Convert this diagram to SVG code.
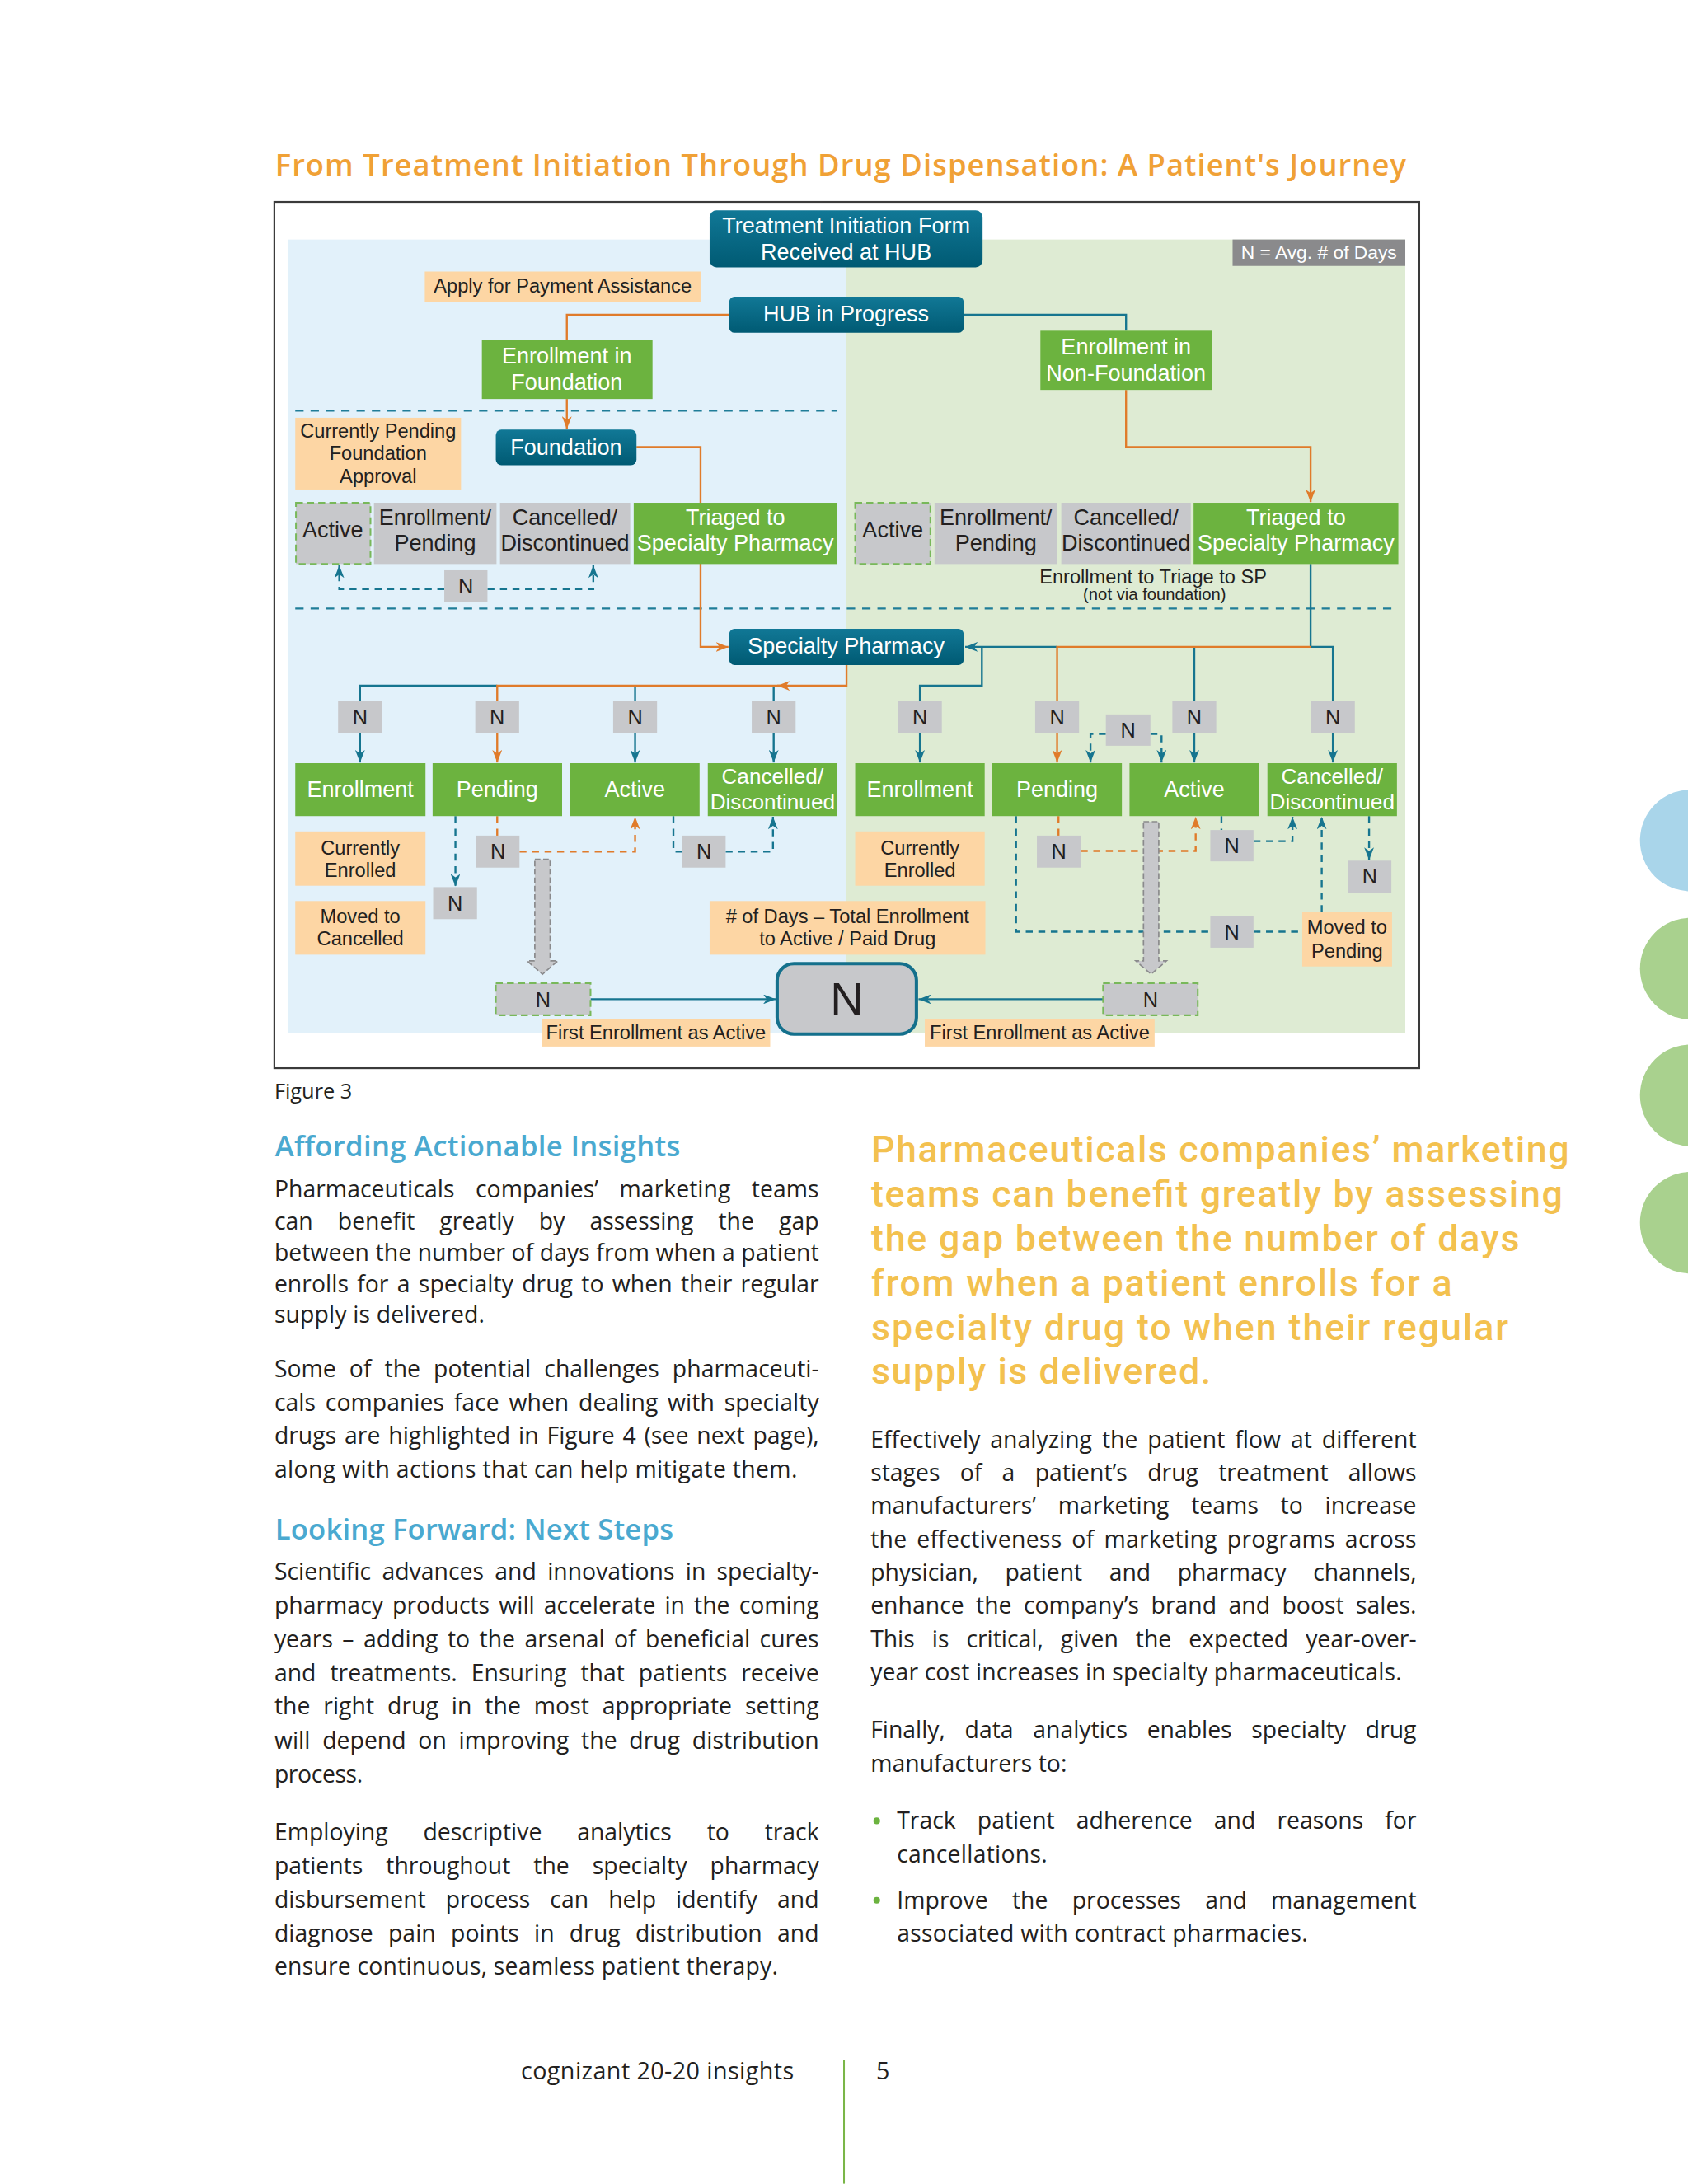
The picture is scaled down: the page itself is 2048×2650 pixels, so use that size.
<svg xmlns="http://www.w3.org/2000/svg" width="2048" height="2650" viewBox="0 0 2048 2650">
<defs>
<linearGradient id="tealG" x1="0" y1="0" x2="0" y2="1"><stop offset="0" stop-color="#117896"/><stop offset="1" stop-color="#005a73"/></linearGradient>
<marker id="aT" viewBox="0 0 9 7" refX="9" refY="3.5" markerWidth="9" markerHeight="7" markerUnits="userSpaceOnUse" orient="auto"><path d="M0,0 L9,3.5 L0,7 L2.5,3.5 Z" fill="#16758f"/></marker>
<marker id="aO" viewBox="0 0 9 7" refX="9" refY="3.5" markerWidth="9" markerHeight="7" markerUnits="userSpaceOnUse" orient="auto"><path d="M0,0 L9,3.5 L0,7 L2.5,3.5 Z" fill="#e07b2a"/></marker>
</defs>
<style>
.tl{fill:none;stroke:#16758f;stroke-width:1.4}
.ol{fill:none;stroke:#e07b2a;stroke-width:1.4}
.dash{stroke-dasharray:5 4}
.sep{fill:none;stroke:#1f7d98;stroke-width:1.3;stroke-dasharray:6 5}
.teal{fill:url(#tealG)}
.grn{fill:#6cb33f}
.gry{fill:#c7c8cb}
.gryd{fill:#c7c8cb;stroke:#78b85a;stroke-width:1.2;stroke-dasharray:5 3}
.pch{fill:#fdd6a4}
.garr{fill:#c7c8cb;stroke:#8a8a8c;stroke-width:1;stroke-dasharray:4 2}
.d{font-family:"Liberation Sans",Arial,sans-serif;text-anchor:middle;font-size:16px;fill:#231f20}
.w{fill:#fff}
.s14{font-size:14px}
.s15{font-size:15px}
.p{font-family:"Open Sans","Liberation Sans",sans-serif;font-size:16.8px;fill:#231f20}
.h{font-family:"Open Sans","Liberation Sans",sans-serif;font-size:20.5px;font-weight:600;fill:#4aa9d0}
.q{font-family:Roboto,"Liberation Sans",sans-serif;font-size:26.5px;font-weight:500;fill:#f3c14f}
</style>
<rect width="2048" height="2650" fill="#ffffff"/>
<g transform="scale(1.6898)">
<!-- title -->
<text id="title" x="197.5" y="126" textLength="812" style="font-family:'Open Sans','Liberation Sans',sans-serif;font-size:21.5px;font-weight:600;fill:#f0a136">From Treatment Initiation Through Drug Dispensation: A Patient's Journey</text>

<!-- frame and panels -->
<g id="frame">
<rect x="197" y="145" width="822" height="622" fill="#ffffff" stroke="#3a3a3a" stroke-width="1.3"/>
<rect x="206.5" y="172" width="401" height="569.5" fill="#e2f1fa"/>
<rect x="607.5" y="172" width="401.5" height="569.5" fill="#deebd3"/>
</g>

<!-- connectors -->
<g id="connectors">
<path class="sep" d="M212,295 H601"/>
<path class="sep" d="M212,437 H1004"/>
<!-- teal solid -->
<path class="tl" d="M692,226 H808.5 V237.5"/>
<path class="tl" d="M941,405 V464.5 H957 V503.5"/>
<path class="tl" d="M957,526.5 V547.5" marker-end="url(#aT)"/>
<path class="tl" d="M759,464.5 H693" marker-end="url(#aT)"/>
<path class="tl" d="M705,464.5 V492.4 H660.5 V503.5"/>
<path class="tl" d="M660.5,526.5 V547.5" marker-end="url(#aT)"/>
<path class="tl" d="M857.5,464.5 V503.5"/>
<path class="tl" d="M857.5,526.5 V547.5" marker-end="url(#aT)"/>
<path class="tl" d="M357,492.4 H258.5 V503.5"/>
<path class="tl" d="M258.5,526.5 V547.5" marker-end="url(#aT)"/>
<path class="tl" d="M456,492.4 V503.5"/>
<path class="tl" d="M456,526.5 V547.5" marker-end="url(#aT)"/>
<path class="tl" d="M555.5,492.4 V503.5"/>
<path class="tl" d="M555.5,526.5 V547.5" marker-end="url(#aT)"/>
<path class="tl" d="M424,717.5 H557" marker-end="url(#aT)"/>
<path class="tl" d="M792,717.5 H659.5" marker-end="url(#aT)"/>
<!-- orange solid -->
<path class="ol" d="M523.5,226 H407 V244"/>
<path class="ol" d="M407,286.5 V308" marker-end="url(#aO)"/>
<path class="ol" d="M457,321 H503 V464.5 H523" marker-end="url(#aO)"/>
<path class="ol" d="M808.5,280 V321 H941 V360.5" marker-end="url(#aO)"/>
<path class="ol" d="M607.8,477.5 V492.4 H558" marker-end="url(#aO)"/>
<path class="ol" d="M560,492.4 H357 V503.5"/>
<path class="ol" d="M357,526.5 V547.5" marker-end="url(#aO)"/>
<path class="ol" d="M941,464.5 H759 V503.5"/>
<path class="ol" d="M759,526.5 V547.5" marker-end="url(#aO)"/>
<!-- dashed teal -->
<path class="tl dash" d="M319,423 H243.6 V406" marker-end="url(#aT)"/>
<path class="tl dash" d="M350,423 H426 V406" marker-end="url(#aT)"/>
<path class="tl dash" d="M327,586 V636.5" marker-end="url(#aT)"/>
<path class="tl dash" d="M483.5,586 V611.5 H490"/>
<path class="tl dash" d="M521,611.5 H555 V586.5" marker-end="url(#aT)"/>
<path class="tl dash" d="M794,527 H783 V547.5" marker-end="url(#aT)"/>
<path class="tl dash" d="M826,527 H834 V547.5" marker-end="url(#aT)"/>
<path class="tl dash" d="M729.5,586 V669 H869"/>
<path class="tl dash" d="M900,669 H935"/>
<path class="tl dash" d="M877,586 V596"/>
<path class="tl dash" d="M900,604 H928 V586.5" marker-end="url(#aT)"/>
<path class="tl dash" d="M949,655 V586.5" marker-end="url(#aT)"/>
<path class="tl dash" d="M983,586 V617.5" marker-end="url(#aT)"/>
<!-- dashed orange -->
<path class="ol dash" d="M357,586 V600"/>
<path class="ol dash" d="M373,611.5 H456 V586.5" marker-end="url(#aO)"/>
<path class="ol dash" d="M760,586 V600"/>
<path class="ol dash" d="M776,611 H858.5 V586.5" marker-end="url(#aO)"/>
<!-- big gray arrows -->
<path class="garr" d="M384,617 H395 V690 H400.5 L389.5,699.5 L378.5,690 H384 Z"/>
<path class="garr" d="M821,590 H832 V690 H837.5 L826.5,699.5 L815.5,690 H821 Z"/>
</g>

<!-- nodes -->
<g id="n-treatment"><rect x="509.5" y="151" width="196" height="41" rx="5" class="teal"/><text class="d w" x="607.5" y="167.5">Treatment Initiation Form</text><text class="d w" x="607.5" y="186.5">Received at HUB</text></g>
<g id="n-legend"><rect x="885" y="172" width="124" height="19" fill="#8a8a8c"/><text class="d w" x="947" y="186" style="font-size:13.5px">N = Avg. # of Days</text></g>
<g id="n-apply"><rect x="305" y="195" width="198" height="22" class="pch"/><text class="d s14" x="404" y="210">Apply for Payment Assistance</text></g>
<g id="n-hub"><rect x="523.5" y="213" width="168.5" height="26" rx="4" class="teal"/><text class="d w" x="607.5" y="231">HUB in Progress</text></g>
<g id="n-enrf"><rect x="346" y="244" width="122.5" height="42.5" class="grn"/><text class="d w" x="407" y="261">Enrollment in</text><text class="d w" x="407" y="280">Foundation</text></g>
<g id="n-enrnf"><rect x="747" y="237.5" width="123" height="42.5" class="grn"/><text class="d w" x="808.5" y="254.5">Enrollment in</text><text class="d w" x="808.5" y="273.5">Non-Foundation</text></g>
<g id="n-pendfound"><rect x="212" y="300" width="119" height="51.5" class="pch"/><text class="d s14" x="271.5" y="314">Currently Pending</text><text class="d s14" x="271.5" y="330">Foundation</text><text class="d s14" x="271.5" y="346.5">Approval</text></g>
<g id="n-foundation"><rect x="356" y="308.5" width="101" height="25.5" rx="4" class="teal"/><text class="d w" x="406.5" y="326.5">Foundation</text></g>

<g id="n-activeL"><rect x="212.5" y="361" width="53.5" height="44" class="gryd"/><text class="d" x="239" y="386">Active</text></g>
<g id="n-enrpendL"><rect x="268.5" y="361" width="88" height="44" class="gry"/><text class="d" x="312.5" y="377">Enrollment/</text><text class="d" x="312.5" y="395.5">Pending</text></g>
<g id="n-cancL"><rect x="359" y="361" width="93.5" height="44" class="gry"/><text class="d" x="405.7" y="377">Cancelled/</text><text class="d" x="405.7" y="395.5">Discontinued</text></g>
<g id="n-triagedL"><rect x="455" y="361" width="146" height="44" class="grn"/><text class="d w" x="528" y="377">Triaged to</text><text class="d w" x="528" y="395.5">Specialty Pharmacy</text></g>
<g id="n-activeR"><rect x="614" y="361" width="54" height="44" class="gryd"/><text class="d" x="641" y="386">Active</text></g>
<g id="n-enrpendR"><rect x="671" y="361" width="88" height="44" class="gry"/><text class="d" x="715" y="377">Enrollment/</text><text class="d" x="715" y="395.5">Pending</text></g>
<g id="n-cancR"><rect x="762" y="361" width="93" height="44" class="gry"/><text class="d" x="808.5" y="377">Cancelled/</text><text class="d" x="808.5" y="395.5">Discontinued</text></g>
<g id="n-triagedR"><rect x="857" y="361" width="147" height="44" class="grn"/><text class="d w" x="930.5" y="377">Triaged to</text><text class="d w" x="930.5" y="395.5">Specialty Pharmacy</text></g>

<g id="n-nTop"><rect x="319" y="409.5" width="31" height="23" class="gry"/><text class="d s15" x="334.5" y="426">N</text></g>
<g id="n-triagelabel"><text class="d s14" x="828" y="419">Enrollment to Triage to SP</text><text class="d" x="829" y="431" style="font-size:12px">(not via foundation)</text></g>
<g id="n-sp"><rect x="523.5" y="451.5" width="168.5" height="26" rx="4" class="teal"/><text class="d w" x="607.5" y="469.5">Specialty Pharmacy</text></g>

<!-- N boxes second row -->
<g id="n-n1"><rect x="242.75" y="503.5" width="31.5" height="23" class="gry"/><text class="d s15" x="258.5" y="520">N</text></g>
<g id="n-n2"><rect x="341.25" y="503.5" width="31.5" height="23" class="gry"/><text class="d s15" x="357" y="520">N</text></g>
<g id="n-n3"><rect x="440.25" y="503.5" width="31.5" height="23" class="gry"/><text class="d s15" x="456" y="520">N</text></g>
<g id="n-n4"><rect x="539.75" y="503.5" width="31.5" height="23" class="gry"/><text class="d s15" x="555.5" y="520">N</text></g>
<g id="n-n5"><rect x="644.75" y="503.5" width="31.5" height="23" class="gry"/><text class="d s15" x="660.5" y="520">N</text></g>
<g id="n-n6"><rect x="743.25" y="503.5" width="31.5" height="23" class="gry"/><text class="d s15" x="759" y="520">N</text></g>
<g id="n-n7"><rect x="841.75" y="503.5" width="31.5" height="23" class="gry"/><text class="d s15" x="857.5" y="520">N</text></g>
<g id="n-n8"><rect x="941.25" y="503.5" width="31.5" height="23" class="gry"/><text class="d s15" x="957" y="520">N</text></g>
<g id="n-nmid"><rect x="794" y="513" width="32" height="22.5" class="gry"/><text class="d s15" x="810" y="529.5">N</text></g>

<!-- green status row -->
<g id="n-enrollL"><rect x="212" y="548" width="93.5" height="38" class="grn"/><text class="d w" x="258.7" y="572">Enrollment</text></g>
<g id="n-pendingL"><rect x="310.6" y="548" width="93" height="38" class="grn"/><text class="d w" x="357" y="572">Pending</text></g>
<g id="n-activeL2"><rect x="409.3" y="548" width="93" height="38" class="grn"/><text class="d w" x="455.8" y="572">Active</text></g>
<g id="n-cancL2"><rect x="508.2" y="548" width="93" height="38" class="grn"/><text class="d w" x="554.7" y="563" style="font-size:15.5px">Cancelled/</text><text class="d w" x="554.7" y="581" style="font-size:15.5px">Discontinued</text></g>
<g id="n-enrollR"><rect x="614" y="548" width="93" height="38" class="grn"/><text class="d w" x="660.5" y="572">Enrollment</text></g>
<g id="n-pendingR"><rect x="712.5" y="548" width="93" height="38" class="grn"/><text class="d w" x="759" y="572">Pending</text></g>
<g id="n-activeR2"><rect x="811" y="548" width="93" height="38" class="grn"/><text class="d w" x="857.5" y="572">Active</text></g>
<g id="n-cancR2"><rect x="910" y="548" width="93" height="38" class="grn"/><text class="d w" x="956.5" y="563" style="font-size:15.5px">Cancelled/</text><text class="d w" x="956.5" y="581" style="font-size:15.5px">Discontinued</text></g>

<!-- lower left -->
<g id="n-curEnrL"><rect x="212" y="597" width="93.5" height="39" class="pch"/><text class="d s14" x="258.7" y="613.5">Currently</text><text class="d s14" x="258.7" y="629.5">Enrolled</text></g>
<g id="n-movCan"><rect x="212" y="647" width="93.5" height="38.5" class="pch"/><text class="d s14" x="258.7" y="663">Moved to</text><text class="d s14" x="258.7" y="679">Cancelled</text></g>
<g id="n-nPendT"><rect x="311" y="637" width="31.5" height="23" class="gry"/><text class="d s15" x="326.8" y="654">N</text></g>
<g id="n-nPendO"><rect x="342" y="600" width="31" height="23" class="gry"/><text class="d s15" x="357.5" y="616.5">N</text></g>
<g id="n-nActT"><rect x="490" y="600" width="31" height="23" class="gry"/><text class="d s15" x="505.5" y="616.5">N</text></g>
<g id="n-days"><rect x="509.5" y="647" width="198" height="38.5" class="pch"/><text class="d s14" x="608.5" y="663">#&#160;of Days – Total Enrollment</text><text class="d s14" x="608.5" y="679">to Active / Paid Drug</text></g>

<!-- lower right -->
<g id="n-curEnrR"><rect x="614" y="597" width="93" height="39" class="pch"/><text class="d s14" x="660.5" y="613.5">Currently</text><text class="d s14" x="660.5" y="629.5">Enrolled</text></g>
<g id="n-nPendOR"><rect x="744.5" y="600" width="31.5" height="23" class="gry"/><text class="d s15" x="760.2" y="616.5">N</text></g>
<g id="n-nActTR"><rect x="869" y="596" width="31" height="22.5" class="gry"/><text class="d s15" x="884.5" y="612.5">N</text></g>
<g id="n-nCanR"><rect x="968" y="618" width="31" height="23" class="gry"/><text class="d s15" x="983.5" y="634.5">N</text></g>
<g id="n-nMovR"><rect x="869" y="658" width="31" height="22.5" class="gry"/><text class="d s15" x="884.5" y="674.5">N</text></g>
<g id="n-movPend"><rect x="935" y="655" width="64.5" height="39" class="pch"/><text class="d s14" x="967.2" y="670.5">Moved to</text><text class="d s14" x="967.2" y="687.5">Pending</text></g>

<!-- bottom -->
<g id="n-bigN"><rect x="558" y="692" width="100" height="50.5" rx="12" fill="#c7c8cb" stroke="#14708c" stroke-width="2.4"/><text class="d" x="608" y="728.5" style="font-size:33px">N</text></g>
<g id="n-nFirstL"><rect x="356" y="706" width="68" height="23" class="gryd"/><text class="d s15" x="390" y="723">N</text></g>
<g id="n-nFirstR"><rect x="792" y="706" width="68" height="23" class="gryd"/><text class="d s15" x="826" y="723">N</text></g>
<g id="n-firstL"><rect x="389" y="731.5" width="164" height="20" class="pch"/><text class="d s14" x="471" y="746.5">First Enrollment as Active</text></g>
<g id="n-firstR"><rect x="664" y="731.5" width="165" height="20" class="pch"/><text class="d s14" x="746.5" y="746.5">First Enrollment as Active</text></g>

<!-- page text -->
<g id="page-left">
<text class="p" x="197" y="789" style="font-size:15px">Figure 3</text>
<text class="h" x="197.5" y="830.5" textLength="291">Affording Actionable Insights</text>
<text class="p" x="197" y="860" textLength="391" style="word-spacing:10.7px">Pharmaceuticals companies’ marketing teams</text>
<text class="p" x="197" y="883" textLength="391" style="word-spacing:13.4px">can benefit greatly by assessing the gap</text>
<text class="p" x="197" y="905.6" textLength="391">between the number of days from when a patient</text>
<text class="p" x="197" y="927.8" textLength="391" style="word-spacing:1.7px">enrolls for a specialty drug to when their regular</text>
<text class="p" x="197" y="950" textLength="151">supply is delivered.</text>
<text class="p" x="197" y="989" textLength="391" style="word-spacing:5.1px">Some of the potential challenges pharmaceuti-</text>
<text class="p" x="197" y="1013" textLength="391" style="word-spacing:2.6px">cals companies face when dealing with specialty</text>
<text class="p" x="197" y="1037" textLength="391" style="word-spacing:1.5px">drugs are highlighted in Figure 4 (see next page),</text>
<text class="p" x="197" y="1061" textLength="375.5">along with actions that can help mitigate them.</text>
<text class="h" x="197.5" y="1105.5" textLength="286">Looking Forward: Next Steps</text>
<text class="p" x="197" y="1134.6" textLength="391" style="word-spacing:3.5px">Scientific advances and innovations in specialty-</text>
<text class="p" x="197" y="1159" textLength="391" style="word-spacing:2.2px">pharmacy products will accelerate in the coming</text>
<text class="p" x="197" y="1183" textLength="391" style="word-spacing:2.4px">years – adding to the arsenal of beneficial cures</text>
<text class="p" x="197" y="1207" textLength="391" style="word-spacing:5.7px">and treatments. Ensuring that patients receive</text>
<text class="p" x="197" y="1231" textLength="391" style="word-spacing:5.1px">the right drug in the most appropriate setting</text>
<text class="p" x="197" y="1256" textLength="391" style="word-spacing:4.3px">will depend on improving the drug distribution</text>
<text class="p" x="197" y="1280" textLength="63.5">process.</text>
<text class="p" x="197" y="1321.6" textLength="391" style="word-spacing:21px">Employing descriptive analytics to track</text>
<text class="p" x="197" y="1346" textLength="391" style="word-spacing:12.2px">patients throughout the specialty pharmacy</text>
<text class="p" x="197" y="1370" textLength="391" style="word-spacing:9.8px">disbursement process can help identify and</text>
<text class="p" x="197" y="1394" textLength="391" style="word-spacing:6.4px">diagnose pain points in drug distribution and</text>
<text class="p" x="197" y="1418" textLength="361.6">ensure continuous, seamless patient therapy.</text>
</g>
<g id="page-right">
<text class="q" x="625.5" y="834.6" textLength="501">Pharmaceuticals companies’ marketing</text>
<text class="q" x="625.5" y="866.6" textLength="496.5">teams can benefit greatly by assessing</text>
<text class="q" x="625.5" y="898.4" textLength="465.5">the gap between the number of days</text>
<text class="q" x="625.5" y="930.2" textLength="417">from when a patient enrolls for a</text>
<text class="q" x="625.5" y="962" textLength="457.5">specialty drug to when their regular</text>
<text class="q" x="625.5" y="993.6" textLength="244">supply is delivered.</text>
<text class="p" x="625" y="1039.5" textLength="392" style="word-spacing:2.7px">Effectively analyzing the patient flow at different</text>
<text class="p" x="625" y="1063.4" textLength="392" style="word-spacing:10px">stages of a patient’s drug treatment allows</text>
<text class="p" x="625" y="1087.3" textLength="392" style="word-spacing:11.4px">manufacturers’ marketing teams to increase</text>
<text class="p" x="625" y="1111.2" textLength="392" style="word-spacing:2.4px">the effectiveness of marketing programs across</text>
<text class="p" x="625" y="1135.1" textLength="392" style="word-spacing:14.9px">physician, patient and pharmacy channels,</text>
<text class="p" x="625" y="1159" textLength="392" style="word-spacing:4.1px">enhance the company’s brand and boost sales.</text>
<text class="p" x="625" y="1182.9" textLength="392" style="word-spacing:8.1px">This is critical, given the expected year-over-</text>
<text class="p" x="625" y="1206.8" textLength="381.4">year cost increases in specialty pharmaceuticals.</text>
<text class="p" x="625" y="1248.3" textLength="392" style="word-spacing:9.7px">Finally, data analytics enables specialty drug</text>
<text class="p" x="625" y="1272.2" textLength="141">manufacturers to:</text>
<circle cx="629.5" cy="1307.5" r="2.4" fill="#6cb33f"/>
<text class="p" x="644" y="1313.3" textLength="373" style="word-spacing:11.1px">Track patient adherence and reasons for</text>
<text class="p" x="644" y="1337.2" textLength="108">cancellations.</text>
<circle cx="629.5" cy="1364.5" r="2.4" fill="#6cb33f"/>
<text class="p" x="644" y="1370.3" textLength="373" style="word-spacing:12.9px">Improve the processes and management</text>
<text class="p" x="644" y="1394.2" textLength="295">associated with contract pharmacies.</text>
</g>
<g id="footer">
<text class="p" x="374" y="1493" textLength="196" style="font-size:17px">cognizant 20-20 insights</text>
<path d="M606,1479 V1568" stroke="#7ab648" stroke-width="1.2"/>
<text class="p" x="629" y="1493" style="font-size:17px">5</text>
</g>
<g id="side-circles">
<circle cx="1214" cy="603.5" r="36.5" fill="#a9d5ea"/>
<circle cx="1214" cy="695.5" r="36.5" fill="#a9d18e"/>
<circle cx="1214" cy="786.5" r="36.5" fill="#a9d18e"/>
<circle cx="1214" cy="878" r="36.5" fill="#a9d18e"/>
</g>
</g>
</svg>
